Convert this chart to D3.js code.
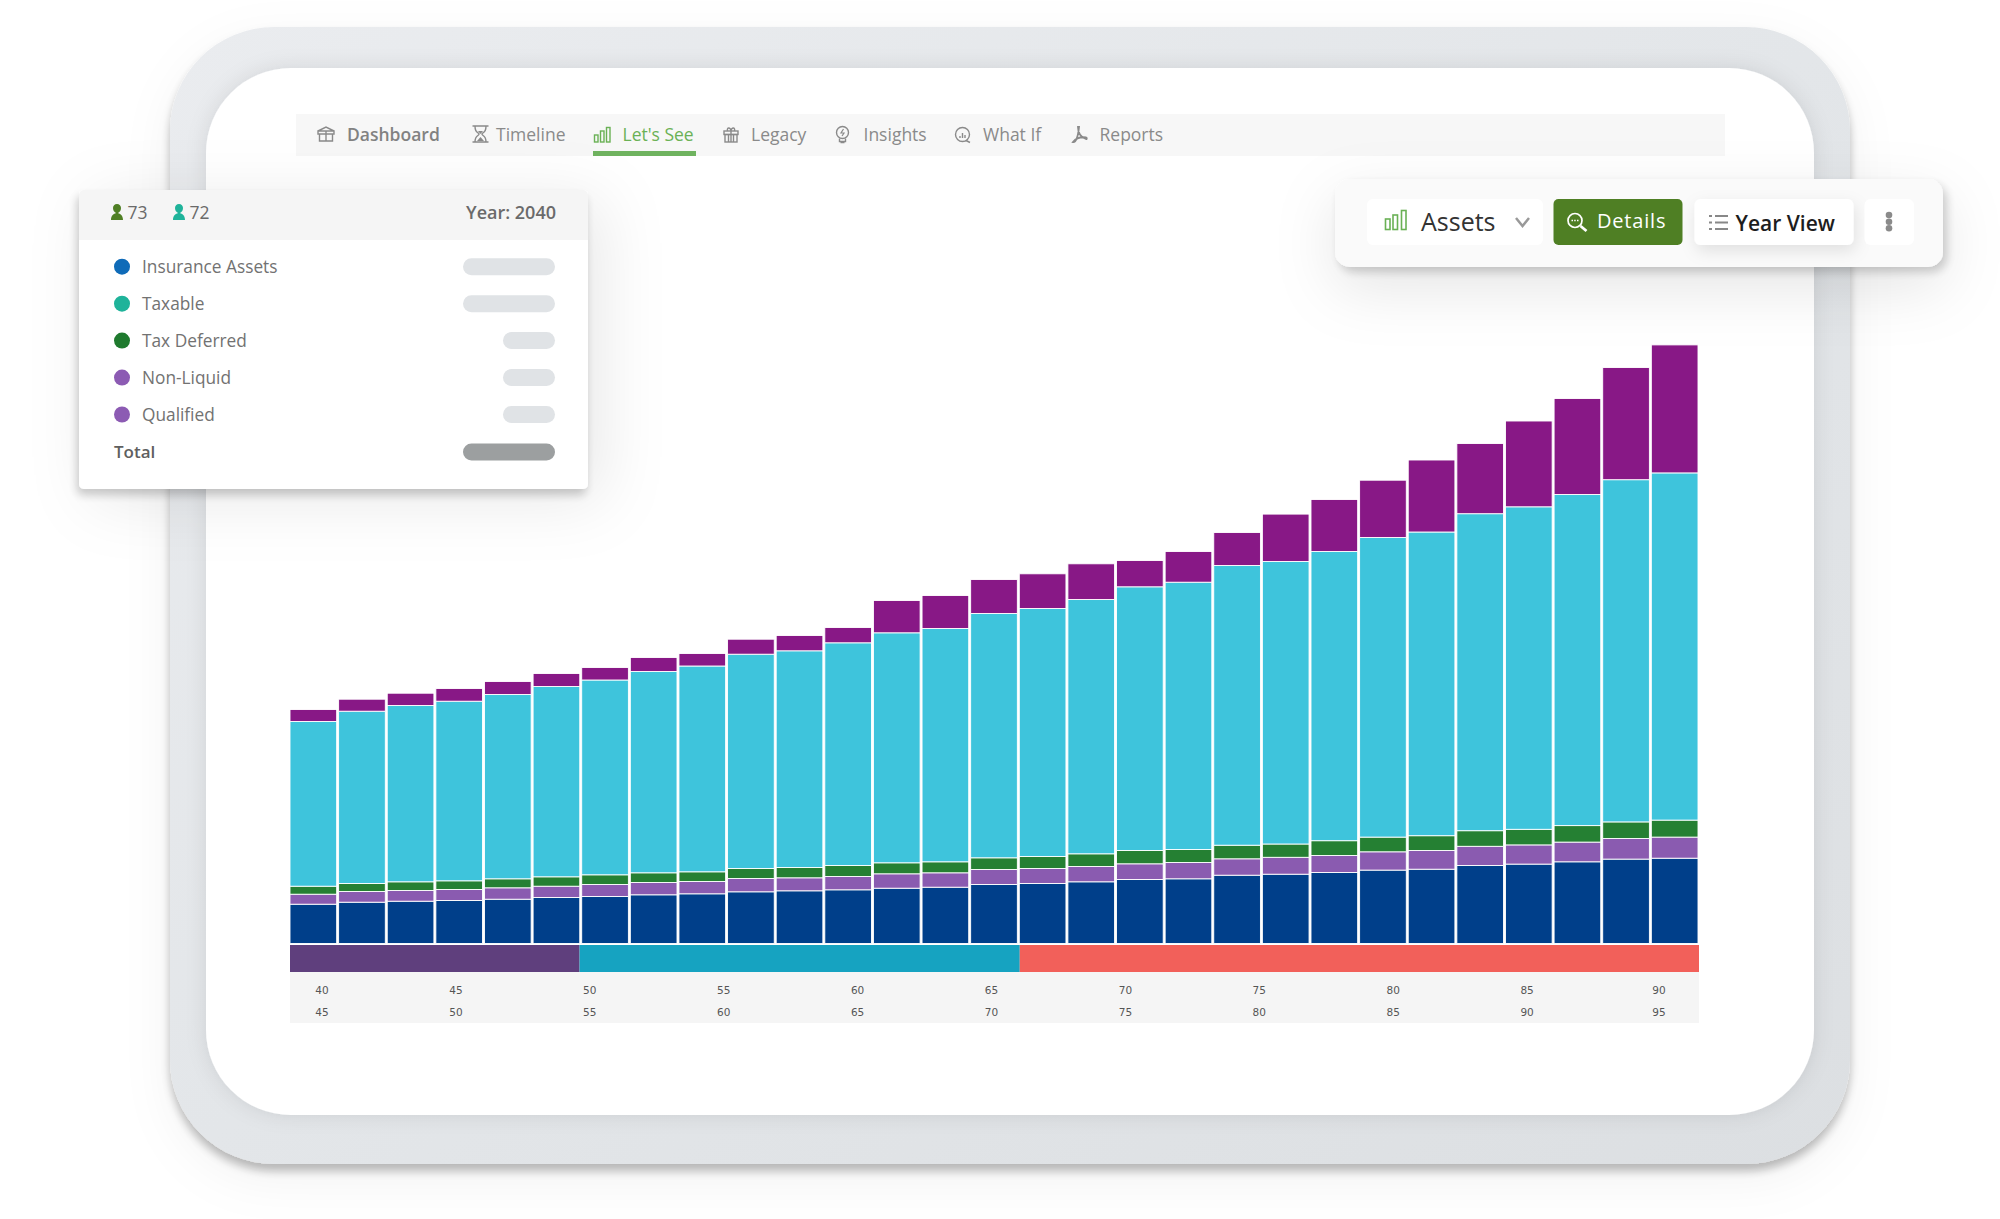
<!DOCTYPE html>
<html>
<head>
<meta charset="utf-8">
<title>Let's See - Assets</title>
<script src="https://cdnjs.cloudflare.com/ajax/libs/d3/7.8.5/d3.min.js"></script>
<style>
	html, body { margin: 0; padding: 0; background: #fff; }
	svg { display: block; }
	text { font-family: 'Open Sans', sans-serif; }
</style>
</head>
<body>
<svg id="chart" width="2000" height="1219"></svg>
<script>
// primary person's age for each bar
var ages = [40,41,42,43,44,45,46,47,48,49,50,51,52,53,54,55,56,57,58,59,60,61,62,63,64,65,66,67,68];

// stacked series, bottom to top (no axis in the original)
var insuranceAssets = [39.3,41.3,42.3,43,44.3,46,47,48.7,49.7,51.7,52.7,53.7,55.3,56.3,59,60,61.7,64,64.7,68.3,69.3,71,73.4,74.3,78,79.4,81.7,84.4,85.3];
var nonLiquid = [10,10.7,10.7,11,11.4,11.3,12,12.3,12.3,13.3,13,13.3,14.4,14.4,15,15,15.3,15.7,16.3,16.4,16.9,17,18.3,18.7,19.2,19.2,19.7,20.6,21.1];
var taxDeferred = [8,8,8.7,8.7,9,9.4,9.7,9.7,9.7,10,10.3,11,11,11,11.7,12,12.7,13.3,13,13.6,13.3,14.8,14.7,14.8,15.6,15.6,16.5,16.6,17];
var taxable = [164.7,172.3,176.3,179.6,184.3,190.3,194.8,201.3,205.8,214.3,216.7,222.7,230,233.3,244.3,248,254.3,263.7,267.3,279.7,282.5,289.2,299.6,303.7,317,322.5,331.1,342.2,347.2];
var qualified = [12,12,12.3,12.7,13,13,12.5,14,12.5,15,15.3,15.3,32.3,33,34,34.7,35.7,26.3,30.7,33,47.4,52,57.3,72,70.2,85.8,96,112.2,128];

var seriesKeys = ['insuranceAssets', 'nonLiquid', 'taxDeferred', 'taxable', 'qualified'];
var seriesColors = ['#003f8a', '#8a5bb0', '#258033', '#3ec4dc', '#881886'];

// life phases along the bottom strip, in bar widths
var phaseBars = [5.96, 9.06, 13.98];
var phaseColors = ['#5f3f7d', '#16a3c1', '#f2605a'];

var tickLabelsTop = ['40','45','50','55','60','65','70','75','80','85','90'];
var tickLabelsBottom = ['45','50','55','60','65','70','75','80','85','90','95'];

var navItems = ['Dashboard', 'Timeline', "Let's See", 'Legacy', 'Insights', 'What If', 'Reports'];
var navX = [347, 496, 622.5, 751, 863.5, 983, 1099.5];
var legendLabels = ['Insurance Assets', 'Taxable', 'Tax Deferred', 'Non-Liquid', 'Qualified'];
var legendColors = ['#0f6bb8', '#1fb39a', '#1f7a2e', '#8c5bb3', '#8c5bb3'];
var legendPills = [92, 92, 52, 52, 52];

var svg = d3.select('#chart');
var defs = svg.append('defs');

function shadow(id, layers) {
	var f = defs.append('filter').attr('id', id).attr('filterUnits', 'userSpaceOnUse')
		.attr('x', 0).attr('y', 0).attr('width', 2000).attr('height', 1219);
	layers.forEach(function (l) {
		f.append('feDropShadow').attr('dx', l[0]).attr('dy', l[1]).attr('stdDeviation', l[2])
			.attr('flood-color', '#000').attr('flood-opacity', l[3]);
	});
}
shadow('frameShadow', [[0, 7, 5, 0.26], [0, 14, 24, 0.05]]);
shadow('innerShadow', [[0, 0, 10, 0.1]]);
shadow('panelShadow', [[-2, 6, 5, 0.2], [14, 10, 32, 0.09]]);
shadow('toolShadow', [[4, 5, 5, 0.18], [0, 20, 30, 0.1]]);
shadow('buttonShadow', [[2, 6, 8, 0.1]]);

var frameGrad = defs.append('linearGradient').attr('id', 'frameGrad')
	.attr('x1', 0).attr('y1', 0).attr('x2', 1).attr('y2', 1);
frameGrad.append('stop').attr('offset', 0).attr('stop-color', '#eaecef');
frameGrad.append('stop').attr('offset', 0.5).attr('stop-color', '#e3e6e9');
frameGrad.append('stop').attr('offset', 1).attr('stop-color', '#dcdfe2');

// device frame
svg.append('rect').attr('x', 170).attr('y', 27).attr('width', 1680).attr('height', 1137).attr('rx', 104)
	.attr('fill', 'url(#frameGrad)').attr('filter', 'url(#frameShadow)');
svg.append('rect').attr('x', 206).attr('y', 68).attr('width', 1608).attr('height', 1047).attr('rx', 85)
	.attr('fill', '#fff').attr('filter', 'url(#innerShadow)');

// nav bar
svg.append('rect').attr('x', 296).attr('y', 114).attr('width', 1429).attr('height', 42).attr('fill', '#f7f7f7');
svg.append('g').selectAll('text').data(navItems).join('text')
	.attr('x', function (d, i) { return navX[i]; })
	.attr('y', 141)
	.attr('font-size', 17.5)
	.attr('font-weight', function (d, i) { return i == 0 ? 600 : 400; })
	.attr('fill', function (d, i) { return i == 2 ? '#6ab155' : (i == 0 ? '#828282' : '#8a8a8a'); })
	.text(function (d) { return d; });
svg.append('rect').attr('x', 593).attr('y', 151).attr('width', 103).attr('height', 5).attr('fill', '#6fb35f');

// nav icons, plain outlines
function icon(markup, stroke) {
	var g = svg.append('g').attr('fill', 'none').attr('stroke', stroke || '#8a8a8a').attr('stroke-width', 1.4);
	g.html(markup);
	return g;
}
icon('<path d="M318 131l8-4l8 4M318 131h16v3h-16zM319.500 134v7h13v-7M326 131v10"/>');
icon('<path d="M472.500 126h16M472.500 142h16M475 126c0 8 4 6 4 8s-4 1-4 8M486 126c0 8-4 6-4 8s4 1 4 8"/><path d="M478 131h5l-2.500 3zM477 141l3.500-4l3.500 4z" fill="#8a8a8a" stroke="none"/>');
icon('<rect x="594.500" y="135" width="3.500" height="7"/><rect x="600.500" y="131" width="3.500" height="11"/><rect x="606.500" y="127.500" width="3.500" height="14.500"/>', '#6ab155');
icon('<rect x="724" y="131" width="14" height="3.500"/><rect x="725" y="134.500" width="12" height="7.500"/><path d="M731 131v11M728.500 134.500v7.500M733.500 134.500v7.500M727.500 131c-1-4 3-4 3.500 0c.5-4 4.500-4 3.500 0"/>');
icon('<circle cx="842.500" cy="132.500" r="6"/><path d="M839.500 138.500v3h6v-3M840.500 142.500h4"/><path d="M843.500 129l-2.500 4h3l-2 3" stroke-width="1.200"/>');
icon('<circle cx="962.500" cy="134.500" r="7"/><path d="M960 138v-2M962.500 138v-5M965 138v-3M966 140.500l4 2"/>');
icon('<path d="M1078 127c0 6 2 10 8 12c1 .5 1-1.500 0-1.500c-6-1-10 1-13 4.500c3 .5 5-5 6-15z" stroke-width="1.800"/>');

// chart
var x = d3.scaleBand().domain(ages).range([290, 1698]).paddingInner(0.04);
var y = d3.scaleLinear().domain([0, 600]).range([943.5, 343.5]);

var rows = ages.map(function (age, i) {
	return {
		age: age,
		insuranceAssets: insuranceAssets[i],
		nonLiquid: nonLiquid[i],
		taxDeferred: taxDeferred[i],
		taxable: taxable[i],
		qualified: qualified[i]
	};
});
var stacked = d3.stack().keys(seriesKeys)(rows);

svg.append('g').selectAll('g').data(stacked).join('g')
	.attr('fill', function (d, i) { return seriesColors[i]; })
	.selectAll('rect').data(function (d) { return d; }).join('rect')
	.attr('x', function (d) { return x(d.data.age); })
	.attr('y', function (d) { return y(d[1]); })
	.attr('width', x.bandwidth())
	.attr('height', function (d) { return y(d[0]) - y(d[1]); })
	.attr('stroke', '#fff')
	.attr('stroke-width', 0.9);

// phase strip
var stripX = d3.scaleLinear().domain([0, ages.length]).range([290, 1699]);
var phaseStart = d3.cumsum([0].concat(phaseBars));
svg.append('g').selectAll('rect').data(phaseBars).join('rect')
	.attr('x', function (d, i) { return stripX(phaseStart[i]); })
	.attr('y', 945)
	.attr('width', function (d) { return stripX(d) - stripX(0); })
	.attr('height', 27)
	.attr('fill', function (d, i) { return phaseColors[i]; });

// age rows, the last pair is pushed in a little by the chart's right edge
svg.append('rect').attr('x', 290).attr('y', 972).attr('width', 1409).attr('height', 51).attr('fill', '#f5f5f5');
var tickX = d3.scalePoint().domain(d3.range(tickLabelsTop.length)).range([322, 1661]);
[[tickLabelsTop, 994], [tickLabelsBottom, 1015.5]].forEach(function (row) {
	svg.append('g').selectAll('text').data(row[0]).join('text')
		.attr('x', function (d, i) { return Math.min(tickX(i), 1659); })
		.attr('y', row[1])
		.attr('text-anchor', 'middle')
		.attr('font-size', 10.5)
		.attr('fill', '#555')
		.style('font-family', "'DejaVu Sans', sans-serif")
		.text(function (d) { return d; });
});

// legend panel
var panel = svg.append('g');
panel.append('rect').attr('x', 79).attr('y', 190).attr('width', 509).attr('height', 299).attr('rx', 5)
	.attr('fill', '#fff').attr('filter', 'url(#panelShadow)');
panel.append('path').attr('d', 'M79 240v-45a5 5 0 0 1 5-5h499a5 5 0 0 1 5 5v45z').attr('fill', '#f5f5f5');

function person(px, color) {
	panel.append('path').attr('fill', color)
		.attr('d', 'M' + px + ' 220c0-5 3-6 5-7c-2-1-3-3-3-5c0-2 1.500-4 4-4s4 2 4 4c0 2-1 4-3 5c2 1 5 2 5 7z');
}
person(111, '#4f7f24');
person(173, '#1fb39a');
panel.append('text').attr('x', 127.500).attr('y', 219).attr('font-size', 17.500).attr('fill', '#6a6a6a').text('73');
panel.append('text').attr('x', 189.500).attr('y', 219).attr('font-size', 17.500).attr('fill', '#6a6a6a').text('72');
panel.append('text').attr('x', 556).attr('y', 219).attr('text-anchor', 'end').attr('font-size', 18)
	.attr('font-weight', 600).attr('fill', '#6a6a6a').text('Year: 2040');

var legendY = d3.scalePoint().domain(d3.range(legendLabels.length)).range([266.7, 414.5]);
var legendRow = panel.selectAll('g.row').data(legendLabels).join('g').attr('class', 'row')
	.attr('transform', function (d, i) { return 'translate(0,' + legendY(i) + ')'; });
legendRow.append('circle').attr('cx', 122).attr('r', 8)
	.attr('fill', function (d, i) { return legendColors[i]; });
legendRow.append('text').attr('x', 142).attr('y', 6).attr('font-size', 17.300).attr('fill', '#727272')
	.text(function (d) { return d; });
legendRow.append('rect')
	.attr('x', function (d, i) { return 555 - legendPills[i]; })
	.attr('y', -8.500)
	.attr('width', function (d, i) { return legendPills[i]; })
	.attr('height', 17).attr('rx', 8.500).attr('fill', '#e0e3e6');
panel.append('text').attr('x', 114).attr('y', 457.500).attr('font-size', 17).attr('font-weight', 600)
	.attr('fill', '#5f5f5f').text('Total');
panel.append('rect').attr('x', 463).attr('y', 443.500).attr('width', 92).attr('height', 17).attr('rx', 8.500).attr('fill', '#9c9fa0');

// toolbar
var tool = svg.append('g');
tool.append('rect').attr('x', 1335).attr('y', 179).attr('width', 608).attr('height', 88).attr('rx', 15)
	.attr('fill', '#fafafa').attr('filter', 'url(#toolShadow)');
tool.append('rect').attr('x', 1367).attr('y', 199).attr('width', 176).attr('height', 46).attr('rx', 6).attr('fill', '#fff');
tool.append('rect').attr('x', 1694.500).attr('y', 199).attr('width', 159).attr('height', 46).attr('rx', 6).attr('fill', '#fff').attr('filter', 'url(#buttonShadow)');
tool.append('rect').attr('x', 1864.500).attr('y', 199).attr('width', 49.500).attr('height', 46).attr('rx', 6).attr('fill', '#fff');
tool.append('rect').attr('x', 1553.500).attr('y', 199).attr('width', 129).attr('height', 46).attr('rx', 5).attr('fill', '#4f7f24');
tool.append('text').attr('x', 1421).attr('y', 231).attr('font-size', 25).attr('fill', '#333').text('Assets');
tool.append('text').attr('x', 1597).attr('y', 228).attr('font-size', 20).attr('fill', '#fff').attr('letter-spacing', 0.8).text('Details');
tool.append('text').attr('x', 1735.500).attr('y', 231).attr('font-size', 21).attr('font-weight', 600).attr('fill', '#1d1d1d').text('Year View');
icon('<rect x="1385.500" y="219" width="4.500" height="10.500"/><rect x="1393" y="215" width="4.500" height="14.500"/><rect x="1401.500" y="210.500" width="4.500" height="19"/>', '#6ab155').attr('stroke-width', 1.6);
icon('<path d="M1516 218l6.500 8l6.500-8"/>', '#999').attr('stroke-width', 2.500);
icon('<circle cx="1575" cy="220.500" r="7"/><path d="M1580.500 226l6 5" stroke-width="2.800"/><path d="M1571.500 220.500h1.500M1574.200 220.500h1.500M1577 220.500h1.500"/>', '#fff').attr('stroke-width', 1.7);
icon('<path d="M1715 216h13M1715 222.500h13M1715 229h13M1709 216h3M1709 222.500h3M1709 229h3"/>', '#888').attr('stroke-width', 2.200);
tool.append('g').attr('fill', '#8a8a8a').selectAll('circle').data([215, 221.700, 228.300]).join('circle')
	.attr('cx', 1889).attr('cy', function (d) { return d; }).attr('r', 3.300);
</script>
</body>
</html>
